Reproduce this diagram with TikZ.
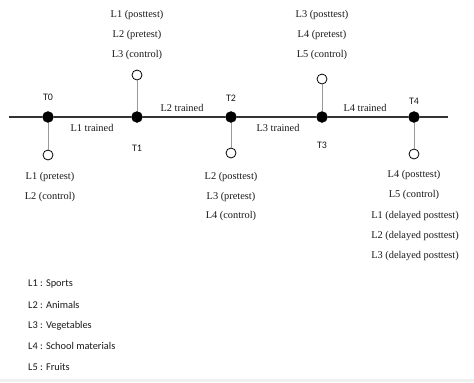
\documentclass[tikz,border=0pt]{standalone}
\usepackage{fontspec}
\setmainfont{Liberation Serif}
\newfontfamily\calib{Carlito}
\begin{document}
\begin{tikzpicture}[x=1bp,y=-1bp,
  dot/.style={circle,fill=black,draw=black,inner sep=0pt,minimum size=11bp},
  ocirc/.style={circle,fill=white,draw=black,line width=0.8bp,inner sep=0pt,minimum size=10bp},
  stem/.style={draw=gray!80,line width=0.9bp},
  mainline/.style={draw=black!80,line width=1.3bp},
  lbl/.style={font=\fontsize{10.4}{12}\selectfont,inner sep=0pt,text=black!90},
  tlab/.style={font=\calib\fontsize{10}{12}\selectfont,inner sep=0pt,text=black!90},
  leg/.style={font=\calib\fontsize{10.4}{12}\selectfont,inner sep=0pt,anchor=west,text=black!90}]
\useasboundingbox (0,0) rectangle (474,382);
\fill[gray!12] (0,379) rectangle (474,382);
% timeline
\coordinate (ls) at (9,117);
\coordinate (le) at (448,117);
\node[dot] (t0) at (48,117) {};
\node[dot] (t1) at (137,117) {};
\node[dot] (t2) at (231,117) {};
\node[dot] (t3) at (322,117) {};
\node[dot] (t4) at (414,117) {};
\draw[mainline] (ls) -- (t0) -- (t1) -- (t2) -- (t3) -- (t4) -- (le);
% open circles
\node[ocirc] (c0) at (48,155) {};
\node[ocirc] (c1) at (137,75) {};
\node[ocirc] (c2) at (231,153) {};
\node[ocirc] (c3) at (322,79) {};
\node[ocirc] (c4) at (414,154) {};
\draw[stem] (t0) -- (c0);
\draw[stem] (t1) -- (c1);
\draw[stem] (t2) -- (c2);
\draw[stem] (t3) -- (c3);
\draw[stem] (t4) -- (c4);
% T labels
\node[tlab] (lt0) at (48,97) {T0};
\node[tlab] (lt1) at (137,148) {T1};
\node[tlab] (lt2) at (231,98) {T2};
\node[tlab] (lt3) at (322,145) {T3};
\node[tlab] (lt4) at (414,101) {T4};
% trained labels
\node[lbl] (tr1) at (92,128) {L1 trained};
\node[lbl] (tr2) at (182,108) {L2 trained};
\node[lbl] (tr3) at (278,128) {L3 trained};
\node[lbl] (tr4) at (365,108) {L4 trained};
% above T1
\node[lbl] (a11) at (137,15) {L1 (posttest)};
\node[lbl] (a12) at (137,35) {L2 (pretest)};
\node[lbl] (a13) at (137,55) {L3 (control)};
% above T3
\node[lbl] (a31) at (322,15) {L3 (posttest)};
\node[lbl] (a32) at (322,35) {L4 (pretest)};
\node[lbl] (a33) at (322,55) {L5 (control)};
% below T0
\node[lbl] (b01) at (50,177) {L1 (pretest)};
\node[lbl] (b02) at (50,197) {L2 (control)};
% below T2
\node[lbl] (b21) at (231,177) {L2 (posttest)};
\node[lbl] (b22) at (231,197) {L3 (pretest)};
\node[lbl] (b23) at (231,216) {L4 (control)};
% below T4
\node[lbl] (b41) at (414,175) {L4 (posttest)};
\node[lbl] (b42) at (414,195) {L5 (control)};
\node[lbl] (b43) at (415,216) {L1 (delayed posttest)};
\node[lbl] (b44) at (415,236) {L2 (delayed posttest)};
\node[lbl] (b45) at (415,256) {L3 (delayed posttest)};
% legend
\node[leg] (g1) at (28,284) {L1 : Sports};
\node[leg] (g2) at (28,305) {L2 : Animals};
\node[leg] (g3) at (28,326) {L3 : Vegetables};
\node[leg] (g4) at (28,346) {L4 : School materials};
\node[leg] (g5) at (28,367) {L5 : Fruits};
\end{tikzpicture}
\end{document}
